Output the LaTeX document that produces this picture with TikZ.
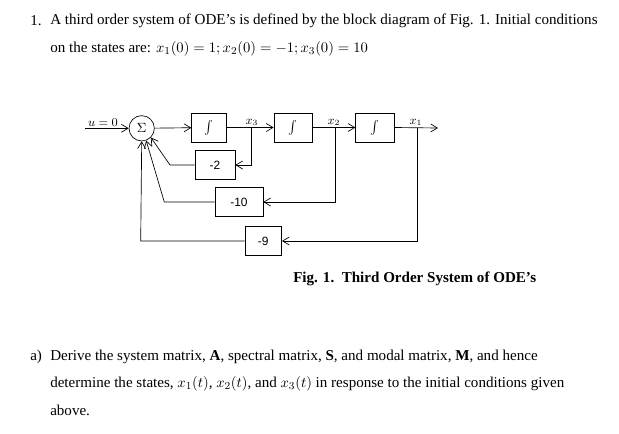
\documentclass[tikz,border=0pt]{standalone}
\usepackage{fontspec}
\setmainfont{Liberation Serif}
\newfontfamily\blkfont{Liberation Sans}
\usetikzlibrary{arrows.meta}
\begin{document}
\begin{tikzpicture}[x=0.75pt,y=-0.75pt,
  blk/.style={draw,line width=0.5pt,minimum width=#1,minimum height=22pt,inner sep=0pt,font=\blkfont\fontsize{9}{10}\selectfont},
  sum/.style={draw,circle,line width=0.5pt,minimum size=19pt,inner sep=0pt},
  ln/.style={line width=0.5pt},
  arr/.style={ln,-{Straight Barb[length=5pt,width=6pt]}},
  lbl/.style={font=\fontsize{9}{10}\selectfont,anchor=south,inner sep=1pt},
  txt/.style={anchor=west,inner sep=0pt,font=\fontsize{11.3}{13}\selectfont}]
\useasboundingbox (0,0) rectangle (619,433);
\node[txt] (n1) at (30,21) {1.};
\node[txt] (l1) at (50,21) {A third order system of ODE’s is defined by the block diagram of Fig. 1. Initial conditions};
\node[txt] (l2) at (50,49) {on the states are: $x_1(0)=1; x_2(0)=-1; x_3(0)=10$};
% diagram
\node[sum] (s) at (141.7,128.3) {$\Sigma$};
\node[blk=26pt] (i1) at (209,127.5) {$\int$};
\node[blk=29pt] (i2) at (293.3,127.5) {$\int$};
\node[blk=29pt] (i3) at (375,127.5) {$\int$};
\node[blk=30pt] (g2) at (215,165) {-2};
\node[blk=36pt] (g10) at (239,202) {-10};
\node[blk=27.5pt] (g9) at (263.3,241) {-9};
\coordinate (in) at (85,128.3);
\coordinate (out) at (438,128);
\node[lbl] (u) at (103,128) {$u=0$};
\draw[arr] (in) -- (s);
\draw[arr] (s) -- (i1);
\draw[arr] (i1) -- (i2);
\draw[arr] (i2) -- (i3);
\draw[arr] (i3.east) -- (out);
\coordinate (x3) at (251.7,128);
\coordinate (x2) at (335,128);
\coordinate (x1) at (417,128);
\node[lbl] at (252,127) {$x_3$};
\node[lbl] at (334,127) {$x_2$};
\node[lbl] at (416,127) {$x_1$};
\draw[arr] (x3) |- (g2.east);
\draw[arr] (x2) |- (g10.east);
\draw[arr] (x1) |- (g9.east);
\draw[arr] (g2.west) -- (170,165) -- (s.-45);
\draw[arr] (g10.west) -- (164.3,202) -- (s.-70);
\draw[arr] (g9.west) -- (140.7,241) -- (s.south);
\node[anchor=west,inner sep=0pt,font=\bfseries\fontsize{11.3}{13}\selectfont] (cap) at (293,279) {Fig. 1.\ \ Third Order System of ODE’s};
\node[txt] (a) at (30,357) {a)};
\node[txt] (a1) at (50,357) {Derive the system matrix, \textbf{A}, spectral matrix, \textbf{S}, and modal matrix, \textbf{M}, and hence};
\node[txt] (a2) at (50,384) {determine the states, $x_1(t)$, $x_2(t)$, and $x_3(t)$ in response to the initial conditions given};
\node[txt] (a3) at (50,410) {above.};
\end{tikzpicture}
\end{document}
